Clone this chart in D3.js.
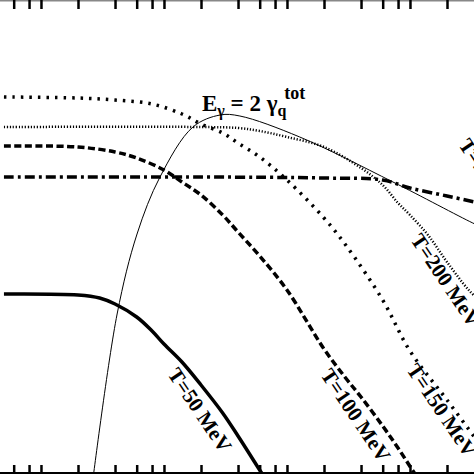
<!DOCTYPE html><html><head><meta charset="utf-8"><script src="https://cdn.jsdelivr.net/npm/d3@7"></script>
<style>body{margin:0;background:#fff}svg{display:block}</style></head><body><div id="c"></div><script>
const W=474,H=474;
const xTicks=[0.3,0.4,0.5,1,2,3,4,5,10,20,30,40,50,100,200,300,400,500,1000];
const t150=[[0.25,97],[1,98],[2,100],[4,104],[7,114],[10,124],[15,133],[20,143],[30,157],[50,180],[100,218],[150,245],[300,300],[500,351],[1000,400],[2000,450]];
const t200=[[0.25,127],[10,127],[20,128],[30,131],[50,137],[100,147],[200,168],[300,185],[400,203],[500,215],[700,235],[1000,262],[1500,290],[2000,305]];
const t100=[[0.25,146],[1,147],[2,152],[3,158],[5,170],[7,182],[10,195],[15,215],[20,232],[30,256],[50,290],[100,349],[150,378],[200,397],[300,426],[400,448],[550,474],[600,480]];
const tdd=[[0.25,177],[10,177],[100,178],[300,180],[500,188],[1000,196],[2000,204]];
const t50=[[0.25,294],[1,295],[1.5,298],[2,304],[3,317],[4,331],[5,344],[7,362],[10,385],[15,413],[20,436],[30,470],[33,478]];
const thin=[[1.32,480],[2.08,314],[3.02,234],[4.64,177],[8.6,127],[14.3,115],[20.7,116],[63.5,137],[364,182],[1620,223],[2000,228]];
const x=d3.scaleLog().domain([Math.pow(10,-78/123),Math.pow(10,(W-78)/123)]).range([0,W]);
const y=d3.scaleLinear().domain([0,474]).range([0,H]);
const svg=d3.select("#c").append("svg").attr("width",W).attr("height",H);
const line=d3.line().x(d=>x(d[0])).y(d=>y(d[1])).curve(d3.curveCatmullRom.alpha(0.5));
const ser=[[t150,3.5,"2.5,6"],[t200,2.5,"1.2,1.8"],[t100,3.5,"7,3.5"],[tdd,3.5,"10,4,3,4"],[t50,3.5,null],[thin,1,null]];
ser.forEach(s=>svg.append("path").attr("d",line(s[0])).attr("fill","none").attr("stroke","#000").attr("stroke-width",s[1]).attr("stroke-dasharray",s[2]));
svg.append("line").attr("x1",0).attr("x2",W).attr("y1",0.5).attr("y2",0.5).attr("stroke","#888").attr("stroke-width",2);
svg.append("line").attr("x1",0).attr("x2",W).attr("y1",H-1).attr("y2",H-1).attr("stroke","#000").attr("stroke-width",2);
svg.append("g").call(d3.axisTop(x).tickValues(xTicks).tickSize(-9).tickFormat("")).call(g=>{g.select(".domain").remove();g.selectAll("line").attr("stroke-width",2.5);});
svg.append("g").attr("transform",`translate(0,${H})`).call(d3.axisBottom(x).tickValues(xTicks).tickSize(-9).tickFormat("")).call(g=>{g.select(".domain").remove();g.selectAll("line").attr("stroke-width",2.5);});
const F="Liberation Serif, Times New Roman, serif";
const labs=[["T=50  MeV",200,410],["T=100 MeV",356,415],["T=150 MeV",442,410],["T=200 MeV",446,280],["T=250 MeV",494,185]];
labs.forEach(l=>svg.append("text").attr("transform",`translate(${l[1]},${l[2]}) rotate(56)`).attr("text-anchor","middle").attr("dy","0.35em").attr("font-family",F).attr("font-weight","bold").attr("font-size",21).text(l[0]));
const t=svg.append("text").attr("x",202).attr("y",111).attr("font-family",F).attr("font-weight","bold").attr("font-size",23);
t.append("tspan").text("E");
t.append("tspan").attr("font-size",16).attr("dy",5).text("γ");
t.append("tspan").attr("dy",-5).text(" = 2 γ");
t.append("tspan").attr("font-size",16).attr("dy",5).text("q");
t.append("tspan").attr("font-size",18).attr("dy",-17).attr("dx",-2).text("tot");
</script></body></html>
